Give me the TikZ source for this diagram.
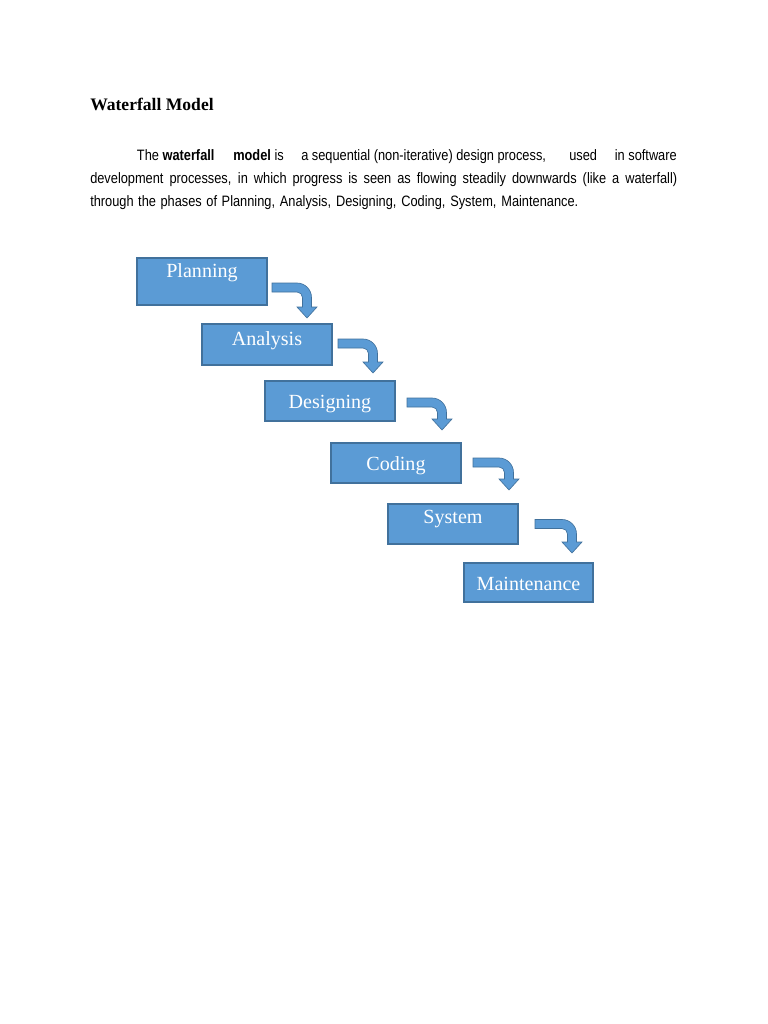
\documentclass[tikz,border=0pt]{standalone}
\usepackage{fontspec}
\setmainfont{Liberation Serif}
\newfontfamily\bodyfont[FakeStretch=0.85]{Liberation Sans}
\definecolor{boxfill}{HTML}{5B9BD5}
\definecolor{boxline}{HTML}{41719C}
\def\pxu{0.796875pt}
\tikzset{
  phase/.style={draw=boxline, fill=boxfill, line width=0.9pt, inner sep=0pt, outer sep=0pt, anchor=north west},
  phasetext/.style={text=white, font=\fontsize{16}{19}\selectfont, inner sep=0pt, anchor=base},
  bodyline/.style={font=\bodyfont\fontsize{12}{14}\selectfont, inner sep=0pt, anchor=base west},
  flow/.style={fill=boxfill, draw=boxline, line width=0.5pt, line join=miter}
}
% #1 name, #2 left, #3 top, #4 right, #5 bottom (px)
\newcommand\phasebox[5]{%
  \node[phase, minimum width={(#4-#2)*0.796875pt}, minimum height={(#5-#3)*0.796875pt}] (#1) at (#2,#3) {};}
% bent arrow: #1 start x, #2 band centre y, #3 shaft x, #4 tip y
\newcommand\bentarrow[4]{%
  \coordinate (a-start) at (#1,#2);
  \coordinate (a-tip) at (#3,#4);
  \draw[flow] ({#1},{#2-4.5}) -- ({#3-10},{#2-4.5})
    .. controls ({#3-10+8},{#2-4.5}) and ({#3+4.5},{#2+10-8}) .. ({#3+4.5},{#2+10})
    -- ({#3+4.5},{#4-11}) -- ({#3+10},{#4-11}) -- (a-tip) -- ({#3-10},{#4-11}) -- ({#3-4.5},{#4-11})
    -- ({#3-4.5},{#2+10})
    .. controls ({#3-4.5},{#2+10-3}) and ({#3-10+3},{#2+4.5}) .. ({#3-10},{#2+4.5})
    -- ({#1},{#2+4.5}) -- cycle;}
\begin{document}
\begin{tikzpicture}[x=0.796875pt, y=-0.796875pt]
\useasboundingbox[fill=white] (0,0) rectangle (768,1024);

\node[inner sep=0pt, anchor=base west, font=\fontsize{14}{17}\selectfont\bfseries] (title) at (90,110) {Waterfall Model};

\node[bodyline] (l1a) at (136.7,160) {The \textbf{waterfall}};
\node[bodyline] (l1b) at (233,160) {\textbf{model} is};
\node[bodyline] (l1c) at (301,160) {a sequential (non-iterative) design process,};
\node[bodyline] (l1d) at (569,160) {used};
\node[bodyline, anchor=base east] (l1e) at (677,160) {in software};
\node[bodyline] (l2) at (90,183.3) {\makebox[467.8pt][s]{development processes, in which progress is seen as flowing steadily downwards (like a waterfall)}};
\node[bodyline] (l3) at (90,206.6) {\makebox[388.9pt][s]{through the phases of Planning, Analysis, Designing, Coding, System, Maintenance.}};

\phasebox{plan}{137}{258}{267}{305}
\phasebox{ana}{202}{324}{332}{365}
\phasebox{des}{265}{381}{395}{421}
\phasebox{cod}{331}{443}{461}{483}
\phasebox{sys}{388}{504}{518}{544}
\phasebox{mnt}{464}{563}{593}{602}

\node[phasetext] (plan-t) at (202,277) {Planning};
\node[phasetext] (ana-t) at (267,345) {Analysis};
\node[phasetext] (des-t) at (330,408) {Designing};
\node[phasetext] (cod-t) at (396,470) {Coding};
\node[phasetext] (sys-t) at (453,523) {System};
\node[phasetext] (mnt-t) at (528.5,590) {Maintenance};

\bentarrow{272}{287.5}{307}{318}
\bentarrow{338}{343.5}{373}{373}
\bentarrow{407}{402.5}{442}{430}
\bentarrow{473}{462.5}{509}{490}
\bentarrow{535}{524}{572}{553}
\end{tikzpicture}
\end{document}
